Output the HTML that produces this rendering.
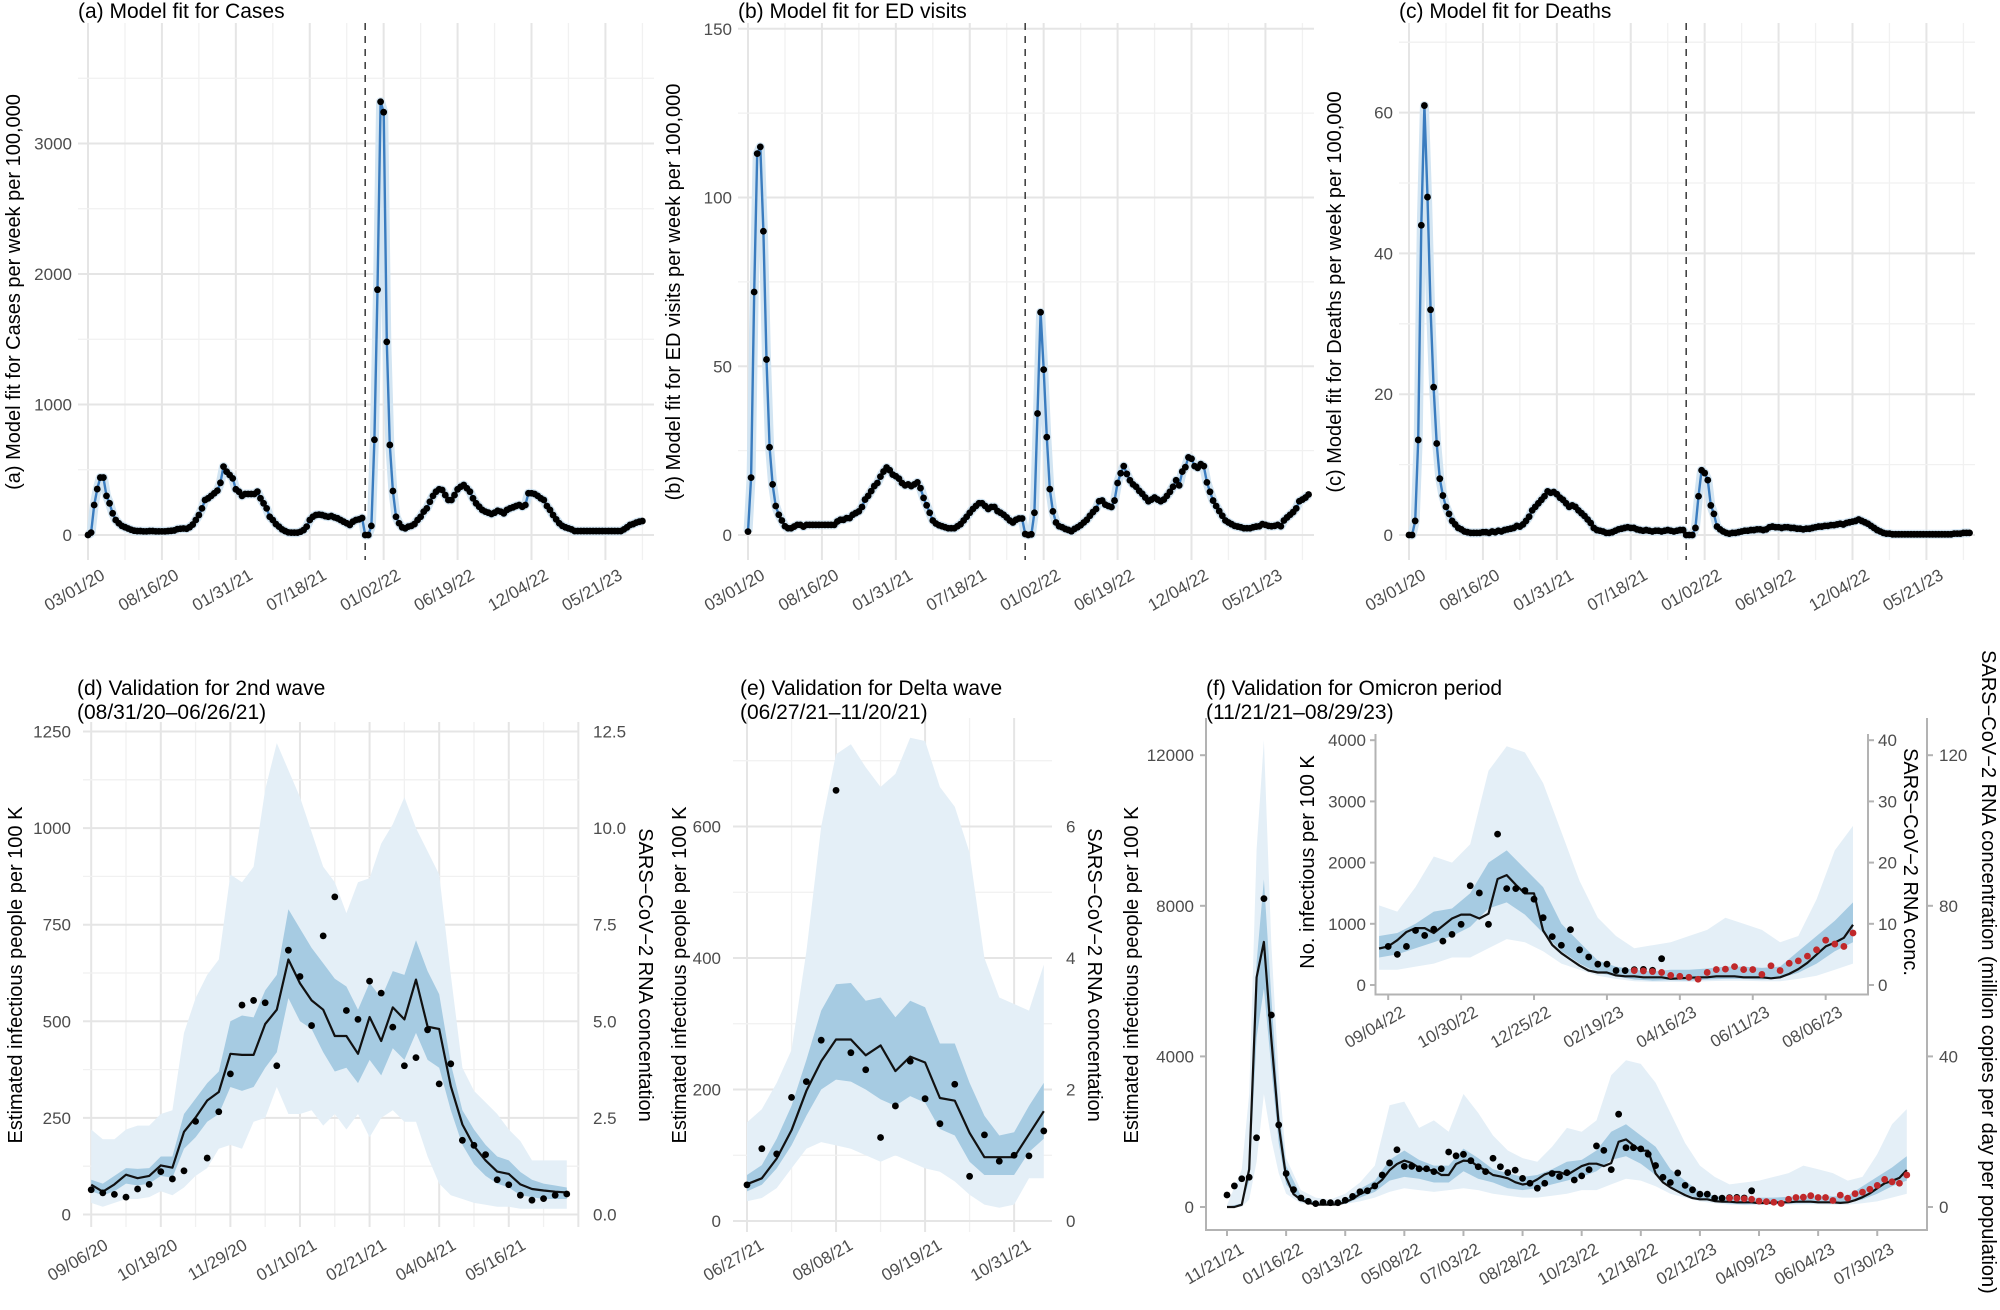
<!DOCTYPE html>
<html><head><meta charset="utf-8"><style>
html,body{margin:0;padding:0;background:#fff;}
svg{display:block;font-family:"Liberation Sans",Arial,sans-serif;}
</style></head><body>
<svg id="fig" width="2000" height="1310" viewBox="0 0 2000 1310" xmlns="http://www.w3.org/2000/svg"></svg>
<script>
// ---------- DATA: top panels (weekly from 03/01/20) ----------
const casesObs=[0,18,230,352,440,440,300,243,166,115,90,70,60,50,40,33,30,30,28,28,30,30,28,28,28,28,30,32,35,45,48,50,48,60,80,115,153,204,268,281,300,320,340,400,524,485,460,434,350,332,300,314,314,314,314,332,281,243,204,140,115,84,64,43,30,20,18,18,18,25,38,64,115,140,153,156,153,145,140,145,135,128,115,102,90,77,102,115,120,130,0,0,70,730,1880,3320,3240,1480,690,337,140,90,59,51,64,70,84,115,140,179,204,255,300,332,350,345,306,268,268,306,350,370,383,358,332,281,243,217,192,179,171,161,171,186,179,166,192,204,212,222,230,217,230,320,320,314,300,281,268,222,192,153,120,90,70,59,51,43,30,30,30,30,30,30,30,30,30,30,30,30,30,30,30,30,43,59,77,84,95,102,107];
const edObs=[1,17,72,113,115,90,52,26,15,8.6,6,4.3,2.6,2,2,2.5,3,3,2.5,3,3,3,3,3,3,3,3,3,3,4,4.5,4.5,5,5,6,6.5,7,8.3,10.5,11.6,13,14.5,15.4,17.3,18.8,20,19.2,17.9,17.4,16.7,15.4,14.7,15,14.5,15,15.6,13.9,11,8.8,6.6,4.3,3.4,2.9,2.6,2.3,2,2,2,2.6,3.2,4.3,5.4,6.6,7.7,8.6,9.4,9.4,8.6,7.7,8.3,8.3,7.1,6.6,6,5.2,4.3,3.7,4.5,4.9,4.9,0.3,0,0.2,6.6,36,66,49,29,13.6,7,3.7,2.6,2.3,1.8,1.5,1.1,1.8,2.3,2.9,3.7,4.5,5.7,6.8,7.7,10,10.2,9,8.6,8.3,10.2,15.4,18.3,20.4,18.1,16.2,15,14.3,13.1,12.2,11.1,10,10.5,11.1,10.5,10,10.5,11.6,12.8,14.3,16.2,14.7,18.8,20.1,23,22.6,20.4,19.9,21,20.4,15.6,12.8,10.2,8.6,7.1,5.7,4.3,3.7,3.2,2.7,2.5,2.3,2,2,2,2.3,2.5,2.6,3.2,3,2.7,2.6,2.7,3,2.6,4.3,5.2,6,6.8,7.9,10,10.5,11.1,12];
const deathObs=[0,0,2,13.5,44,61,48,32,21,13,8,5.6,4,3,2,1.5,1,0.8,0.5,0.4,0.3,0.3,0.3,0.3,0.4,0.4,0.3,0.5,0.4,0.6,0.5,0.7,0.8,0.9,1,1.3,1.2,1.5,2,2.6,3.5,4,4.5,5,5.5,6.2,6,6.1,5.8,5.3,5,4.5,4,4.2,4,3.5,3.1,2.7,2.2,1.7,1,0.7,0.6,0.5,0.3,0.3,0.4,0.6,0.8,0.9,1,1.1,1,1,0.8,0.7,0.6,0.7,0.6,0.5,0.6,0.6,0.5,0.6,0.7,0.6,0.5,0.6,0.7,0.7,0,0,0,1,5.5,9.2,8.8,7.8,4.2,3,1.2,0.8,0.5,0.3,0.2,0.3,0.3,0.4,0.5,0.6,0.6,0.7,0.7,0.8,0.8,0.7,0.8,1.1,1.2,1.1,1.1,1.0,1.1,1.1,1.0,1.0,0.9,0.9,0.8,0.9,0.9,1,1.1,1.2,1.2,1.3,1.3,1.4,1.4,1.5,1.6,1.5,1.7,1.8,1.9,2.0,2.2,2.0,1.8,1.6,1.3,1,0.7,0.5,0.3,0.2,0.2,0.1,0.1,0.1,0.1,0.1,0.1,0.1,0.1,0.1,0.1,0.1,0.1,0.1,0.1,0.1,0.1,0.1,0.1,0.1,0.1,0.2,0.2,0.2,0.3,0.3,0.3];
const casesTicks=[0,1000,2000,3000];
const edTicks=[0,50,100,150];
const deathTicks=[0,20,40,60];
// ---------- DATA: (d) 2nd wave, weekly from 09/06/20 ----------
const dObs=[64,56,52,45,66,78,111,92,113,241,146,266,364,542,554,548,385,684,616,489,721,822,528,505,604,573,485,385,406,478,338,390,192,179,155,90,77,50,37,41,50,53];
const dMed=[77,59,78,103,94,100,127,121,214,251,295,317,416,413,413,493,530,660,598,554,530,462,462,416,511,449,536,505,608,486,480,332,233,177,140,111,105,78,66,62,59,57];
const dInUp=[90,80,100,120,118,120,150,150,260,300,340,370,500,515,510,580,620,790,740,690,650,610,590,530,600,560,630,620,710,630,570,390,270,220,180,150,140,110,90,80,75,70];
const dInLo=[60,50,60,80,75,80,100,95,170,200,240,260,330,320,330,380,420,560,500,480,420,370,380,340,400,360,430,400,470,400,380,270,180,130,100,80,70,50,45,40,40,40];
const dOutUp=[220,195,195,220,230,230,260,270,470,560,620,660,880,860,900,1100,1220,1150,1080,990,900,860,780,860,870,960,1010,1080,1000,940,880,620,380,320,290,260,220,190,140,140,140,140];
const dOutLo=[30,20,30,40,40,45,60,50,70,100,120,170,180,170,240,250,330,260,260,270,230,260,220,260,200,250,270,240,240,150,80,50,40,30,25,20,20,15,15,15,15,15];
const dTicks=[0,250,500,750,1000,1250];
const dTicks2=["0.0","2.5","5.0","7.5","10.0","12.5"];
// ---------- DATA: (e) Delta wave, weekly from 06/27/21 ----------
const eObs=[55,110,102,188,212,275,655,256,230,127,175,243,186,148,208,68,131,91,100,99,137];
const eMed=[56,65,95,138,198,243,276,276,252,267,228,250,241,187,183,134,97,97,97,132,167];
const eInUp=[70,85,125,175,245,320,360,362,335,340,310,335,325,270,270,210,160,130,135,175,210];
const eInLo=[45,55,80,115,160,200,215,212,200,185,175,190,180,140,130,90,70,70,70,105,125];
const eOutUp=[150,170,210,260,410,600,710,725,690,660,680,735,730,660,630,560,400,340,330,320,390];
const eOutLo=[30,35,50,80,110,120,115,110,100,90,100,90,80,75,60,40,25,20,25,65,65];
const eTicks=[0,200,400,600];
const eTicks2=["0","2","4","6"];
// ---------- DATA: (f) Omicron, weekly from 11/21/21 ----------
const fObs=[318,560,750,790,1840,8190,5100,2180,890,460,240,150,90,127,115,115,180,280,406,432,560,850,1170,1520,1080,1080,1016,1016,940,1016,1460,1360,1400,1230,1070,940,1295,1070,915,980,760,630,500,630,890,810,913,717,827,992,1622,1504,992,2465,1575,1575,1543,1402,1100,790,650,905,575,457,340,340,236,236,250,255,240,430];
const fRedStart=68;
const fRed=[236,230,220,205,157,142,126,94,205,252,260,300,252,252,173,315,236,354,394,472,575,732,669,630,850];
const fMed=[0,0,60,1000,6100,7040,4470,2180,790,343,190,115,64,64,64,70,127,216,343,432,560,724,978,1143,1232,1168,1040,978,978,850,850,1143,1232,1220,1067,978,850,813,762,660,597,630,732,866,929,929,850,968,1087,1150,1150,1087,1165,1732,1795,1638,1496,1496,890,654,520,417,315,236,205,205,157,142,142,126,126,126,102,110,118,126,126,142,142,142,126,126,126,110,126,181,260,362,496,630,693,772,984];
const fBandWeeks=[0,2,3,4,5,6,7,8,10,12,14,16,18,20,22,24,26,28,30,32,34,36,38,40,42,44,46,48,50,52,54,56,58,60,62,64,66,68,70,72,74,76,78,80,82,84,86,88,90,92];
const fOutUp=[50,1000,3000,9500,12400,7000,3500,1300,450,250,200,350,650,1100,2700,2800,2100,2300,2000,3000,2500,1900,1500,1300,1200,1600,2100,2000,2300,3500,3900,3800,3300,2500,1700,1100,800,600,650,700,800,900,1100,1000,900,700,800,1400,2200,2600];
const fOutLo=[0,0,200,1200,3000,1800,900,350,100,50,50,80,150,250,400,500,450,400,450,500,450,350,300,250,250,300,350,450,450,600,750,700,550,350,250,150,100,60,50,50,50,60,70,70,60,60,100,150,250,350];
const fInUp=[0,100,1200,6500,8700,5600,2600,1100,300,130,100,200,480,700,1250,1500,1250,1100,1100,1550,1300,1000,900,800,850,1000,1200,1250,1500,2000,2200,1900,1600,1000,700,400,300,250,220,250,250,270,300,300,280,300,550,800,1050,1350];
const fInLo=[0,30,700,4500,5800,3700,1700,600,150,40,40,80,250,400,700,800,750,650,650,950,750,650,500,450,500,600,700,800,950,1250,1350,1150,850,550,350,200,140,90,70,80,70,90,100,100,90,110,200,350,550,700];
const fTicks=[0,4000,8000,12000];
const fTicks2=["0","40","80","120"];
const insetStartWeek=41;
const insetTicks=[0,1000,2000,3000,4000];
const insetTicks2=["0","10","20","30","40"];

// ---------- helpers ----------
const NS="http://www.w3.org/2000/svg";
const svg=document.getElementById('fig');
function el(tag,attrs,parent,text){const e=document.createElementNS(NS,tag);for(const k in attrs)e.setAttribute(k,attrs[k]);if(text!==undefined)e.textContent=text;(parent||svg).appendChild(e);return e;}
function fmt(base,days){const d=new Date(Date.UTC(base[0],base[1]-1,base[2])+days*86400000);const p=n=>String(n).padStart(2,'0');return p(d.getUTCMonth()+1)+'/'+p(d.getUTCDate())+'/'+p(d.getUTCFullYear()%100);}
const TICKC="#4d4d4d",GRIDMAJ="#e5e5e5",GRIDMIN="#f1f1f1";
function xLabel(g,x,y,txt,name){const t=el('text',{transform:`translate(${x+12},${y}) rotate(-30)`,'text-anchor':'end','dominant-baseline':'hanging','font-size':17,fill:TICKC},g,txt);return t;}
function pathFrom(xs,ys){return xs.map((x,i)=>(i?'L':'M')+x.toFixed(1)+','+ys[i].toFixed(1)).join('');}

// ---------- top panels ----------
function topPanel(o){
  const g=el('g',{});
  const X=d=>o.x0+0.44*d, Y=v=>535-v*o.k;
  const gl=o.x0-10, gr=gl+576, gt=23, gb=560;
  // grid
  for(let d=0;X(d)<=gr;d+=84){const l=el('line',{x1:X(d),x2:X(d),y1:gt,y2:gb,stroke:(d%168===0)?GRIDMAJ:GRIDMIN,'stroke-width':(d%168===0)?2:1.3},g);}
  const step=o.ticks[1]-o.ticks[0];
  for(let v=step/2;Y(v)>=gt;v+=step){const l=el('line',{x1:gl,x2:gr,y1:Y(v),y2:Y(v),stroke:GRIDMIN,'stroke-width':1.3},g);}
  o.ticks.forEach(v=>{const l=el('line',{x1:gl,x2:gr,y1:Y(v),y2:Y(v),stroke:GRIDMAJ,'stroke-width':2},g);
    const t=el('text',{x:gl-6,y:Y(v)+6,'text-anchor':'end','font-size':17,fill:TICKC},g,String(v));});
  for(let d=0;d<=1200;d+=168){xLabel(g,X(d),568,fmt([2020,3,1],d),'x-tick-label');}
  // dashed line
  const dl=el('line',{x1:X(630),x2:X(630),y1:gt,y2:gb,stroke:'#444','stroke-width':1.6,'stroke-dasharray':'7,6'},g);
  const xs=o.vals.map((v,i)=>X(7*i)), ys=o.vals.map(v=>Y(v));
  const band=el('path',{d:pathFrom(xs,ys),fill:'none',stroke:'#d3e5f2','stroke-width':9,'stroke-linejoin':'round'},g);
  const ln=el('path',{d:pathFrom(xs,ys),fill:'none',stroke:'#3a7cbf','stroke-width':2.4,'stroke-linejoin':'round'},g);
  o.vals.forEach((v,i)=>{const c=el('circle',{cx:xs[i],cy:ys[i],r:3.4,fill:'#000'},g);});
  const tt=el('text',{x:gl,y:18,'font-size':21,fill:'#000'},g,o.title);
  const yt=el('text',{transform:`translate(${gl-58},292) rotate(-90)`,'text-anchor':'middle','font-size':20,fill:'#000'},g,o.ylab);
}
topPanel({name:'panel-a-cases',x0:88,k:0.1305,vals:casesObs,ticks:casesTicks,title:'(a) Model fit for Cases',ylab:'(a) Model fit for Cases per week per 100,000'});
topPanel({name:'panel-b-ed-visits',x0:748,k:3.375,vals:edObs,ticks:edTicks,title:'(b) Model fit for ED visits',ylab:'(b) Model fit for ED visits per week per 100,000'});
topPanel({name:'panel-c-deaths',x0:1409,k:7.04,vals:deathObs,ticks:deathTicks,title:'(c) Model fit for Deaths',ylab:'(c) Model fit for Deaths per week per 100,000'});

// ---------- validation panels (d, e) ----------
function valPanel(o){
  const g=el('g',{});
  const X=d=>o.x0+o.pxDay*d, Y=v=>o.y0-v*o.k;
  for(let d=0;X(d)<=o.gr;d+=21){const l=el('line',{x1:X(d),x2:X(d),y1:o.gt,y2:o.gb,stroke:(d%42===0)?GRIDMAJ:GRIDMIN,'stroke-width':(d%42===0)?2:1.3},g);}
  const step=o.ticks[1]-o.ticks[0];
  for(let v=step/2;Y(v)>=o.gt;v+=step){const l=el('line',{x1:o.gl,x2:o.gr,y1:Y(v),y2:Y(v),stroke:GRIDMIN,'stroke-width':1.3},g);}
  o.ticks.forEach((v,i)=>{const l=el('line',{x1:o.gl,x2:o.gr,y1:Y(v),y2:Y(v),stroke:GRIDMAJ,'stroke-width':2},g);
    const t=el('text',{x:o.gl-12,y:Y(v)+6,'text-anchor':'end','font-size':17,fill:TICKC},g,String(v));
    const t2=el('text',{x:o.gr+14,y:Y(v)+6,'font-size':17,fill:TICKC},g,o.ticks2[i]);});
  for(let d=0;X(d)<=o.gr-10;d+=42){xLabel(g,X(d),1238,fmt(o.base,d),'x-tick-label');}
  const n=o.obs.length, xs=o.obs.map((v,i)=>X(7*i));
  const area=(up,lo)=>pathFrom(xs.concat(xs.slice().reverse()),up.map(Y).concat(lo.map(Y).reverse()))+'Z';
  const b1=el('path',{d:area(o.outUp,o.outLo),fill:'#e4eff7'},g);
  const b2=el('path',{d:area(o.inUp,o.inLo),fill:'#a6cbe2'},g);
  const ln=el('path',{d:pathFrom(xs,o.med.map(Y)),fill:'none',stroke:'#111','stroke-width':2.2,'stroke-linejoin':'round'},g);
  o.obs.forEach((v,i)=>{const c=el('circle',{cx:xs[i],cy:Y(v),r:3.4,fill:'#000'},g);});
  const t1=el('text',{x:o.tx,y:695,'font-size':21,fill:'#000'},g,o.title1);
  const t2=el('text',{x:o.tx,y:719,'font-size':21,fill:'#000'},g,o.title2);
  const yt=el('text',{transform:`translate(${o.ylx},975) rotate(-90)`,'text-anchor':'middle','font-size':20,fill:'#000'},g,'Estimated infectious people per 100 K');
  const yt2=el('text',{transform:`translate(${o.yrx},975) rotate(90)`,'text-anchor':'middle','font-size':20,fill:'#000'},g,'SARS\u2212CoV\u22122 RNA concentation');
}
valPanel({name:'panel-d-2nd-wave',base:[2020,9,6],x0:91.2,pxDay:1.657,y0:1214.5,k:0.3864,gl:83,gr:579,gt:722,gb:1227,
  obs:dObs,med:dMed,inUp:dInUp,inLo:dInLo,outUp:dOutUp,outLo:dOutLo,ticks:dTicks,ticks2:dTicks2,
  tx:77,title1:'(d) Validation for 2nd wave',title2:'(08/31/20\u201306/26/21)',ylx:22,yrx:639});
valPanel({name:'panel-e-delta-wave',base:[2021,6,27],x0:747,pxDay:2.12,y0:1221,k:0.6575,gl:733,gr:1052,gt:718,gb:1232,
  obs:eObs,med:eMed,inUp:eInUp,inLo:eInLo,outUp:eOutUp,outLo:eOutLo,ticks:eTicks,ticks2:eTicks2,
  tx:740,title1:'(e) Validation for Delta wave',title2:'(06/27/21\u201311/20/21)',ylx:686,yrx:1088});

// ---------- panel f ----------
(function(){
  const g=el('g',{});
  const AX="#b3b3b3";
  function drawView(gg,X,Y,weekMin,clipId){
    const bw=fBandWeeks.map((w,i)=>i).filter(i=>fBandWeeks[i]>=weekMin-2);
    const bx=bw.map(i=>X(7*fBandWeeks[i]));
    const area=(up,lo)=>pathFrom(bx.concat(bx.slice().reverse()),bw.map(i=>Y(up[i])).concat(bw.map(i=>Y(lo[i])).reverse()))+'Z';
    const cg=el('g',clipId?{'clip-path':`url(#${clipId})`}:{},gg);
    const b1=el('path',{d:area(fOutUp,fOutLo),fill:'#e4eff7'},cg);
    const b2=el('path',{d:area(fInUp,fInLo),fill:'#a6cbe2'},cg);
    const mi=fMed.map((v,i)=>i).filter(i=>i>=weekMin-1);
    const ln=el('path',{d:pathFrom(mi.map(i=>X(7*i)),mi.map(i=>Y(fMed[i]))),fill:'none',stroke:'#111','stroke-width':2.2,'stroke-linejoin':'round'},cg);
    fObs.forEach((v,i)=>{if(i<weekMin)return;const c=el('circle',{cx:X(7*i),cy:Y(v),r:3.4,fill:'#000'},gg);});
    fRed.forEach((v,j)=>{const i=j+fRedStart;if(i<weekMin)return;const c=el('circle',{cx:X(7*i),cy:Y(v),r:3.4,fill:'#c0282a'},gg);});
  }
  // main
  const X=d=>1227+1.0556*d, Y=v=>1207-v*0.03765;
  drawView(g,X,Y,0,null);
  [['M1206,718 L1206,1230 L1927,1230 L1927,718','main-axis-frame']].forEach(a=>{const p=el('path',{d:a[0],fill:'none',stroke:AX,'stroke-width':2},g);});
  fTicks.forEach((v,i)=>{
    const tl=el('line',{x1:1200,x2:1206,y1:Y(v),y2:Y(v),stroke:AX,'stroke-width':2},g);
    const tr=el('line',{x1:1927,x2:1933,y1:Y(v),y2:Y(v),stroke:AX,'stroke-width':2},g);
    const t=el('text',{x:1194,y:Y(v)+6,'text-anchor':'end','font-size':17,fill:TICKC},g,String(v));
    const t2=el('text',{x:1939,y:Y(v)+6,'font-size':17,fill:TICKC},g,fTicks2[i]);});
  for(let d=0;d<=620;d+=56){const tk=el('line',{x1:X(d),x2:X(d),y1:1230,y2:1236,stroke:AX,'stroke-width':2},g);xLabel(g,X(d),1242,fmt([2021,11,21],d),'x-tick-label');}
  const t1=el('text',{x:1206,y:695,'font-size':21,fill:'#000'},g,'(f) Validation for Omicron period');
  const t2=el('text',{x:1206,y:719,'font-size':21,fill:'#000'},g,'(11/21/21\u201308/29/23)');
  const yt=el('text',{transform:'translate(1138,975) rotate(-90)','text-anchor':'middle','font-size':20,fill:'#000'},g,'Estimated infectious people per 100 K');
  const yt2=el('text',{transform:'translate(1982,972) rotate(90)','text-anchor':'middle','font-size':20,fill:'#000'},g,'SARS\u2212CoV\u22122 RNA concentration (million copies per day per population)');
  // inset
  const ig=el('g',{},g);
  const defs=el('defs',{},ig);const cp=el('clipPath',{id:'insetClip'},defs);el('rect',{x:1376,y:725,width:492,height:269},cp);
  const IX=d=>1388.2+1.302*(d-7*insetStartWeek), IY=v=>985-v*0.0612;
  drawView(ig,IX,IY,insetStartWeek,'insetClip');
  const fr=el('path',{d:'M1375.5,734 L1375.5,994.5 L1868,994.5 L1868,734',fill:'none',stroke:AX,'stroke-width':2},ig);
  insetTicks.forEach((v,i)=>{
    const tl=el('line',{x1:1370,x2:1375.5,y1:IY(v),y2:IY(v),stroke:AX,'stroke-width':2},ig);
    const tr=el('line',{x1:1868,x2:1874,y1:IY(v),y2:IY(v),stroke:AX,'stroke-width':2},ig);
    const t=el('text',{x:1366,y:IY(v)+6,'text-anchor':'end','font-size':17,fill:TICKC},ig,String(v));
    const t2=el('text',{x:1878,y:IY(v)+6,'font-size':17,fill:TICKC},ig,insetTicks2[i]);});
  for(let d=287;d<=287+6*56;d+=56){const tk=el('line',{x1:IX(d),x2:IX(d),y1:994.5,y2:1000,stroke:AX,'stroke-width':2},ig);xLabel(ig,IX(d),1005,fmt([2021,11,21],d),'inset-x-tick-label');}
  const iy=el('text',{transform:'translate(1314,862) rotate(-90)','text-anchor':'middle','font-size':20,fill:'#000'},ig,'No. infectious per 100 K');
  const iy2=el('text',{transform:'translate(1904,862) rotate(90)','text-anchor':'middle','font-size':20,fill:'#000'},ig,'SARS\u2212CoV\u22122 RNA conc.');
})();
</script>
</body></html>
